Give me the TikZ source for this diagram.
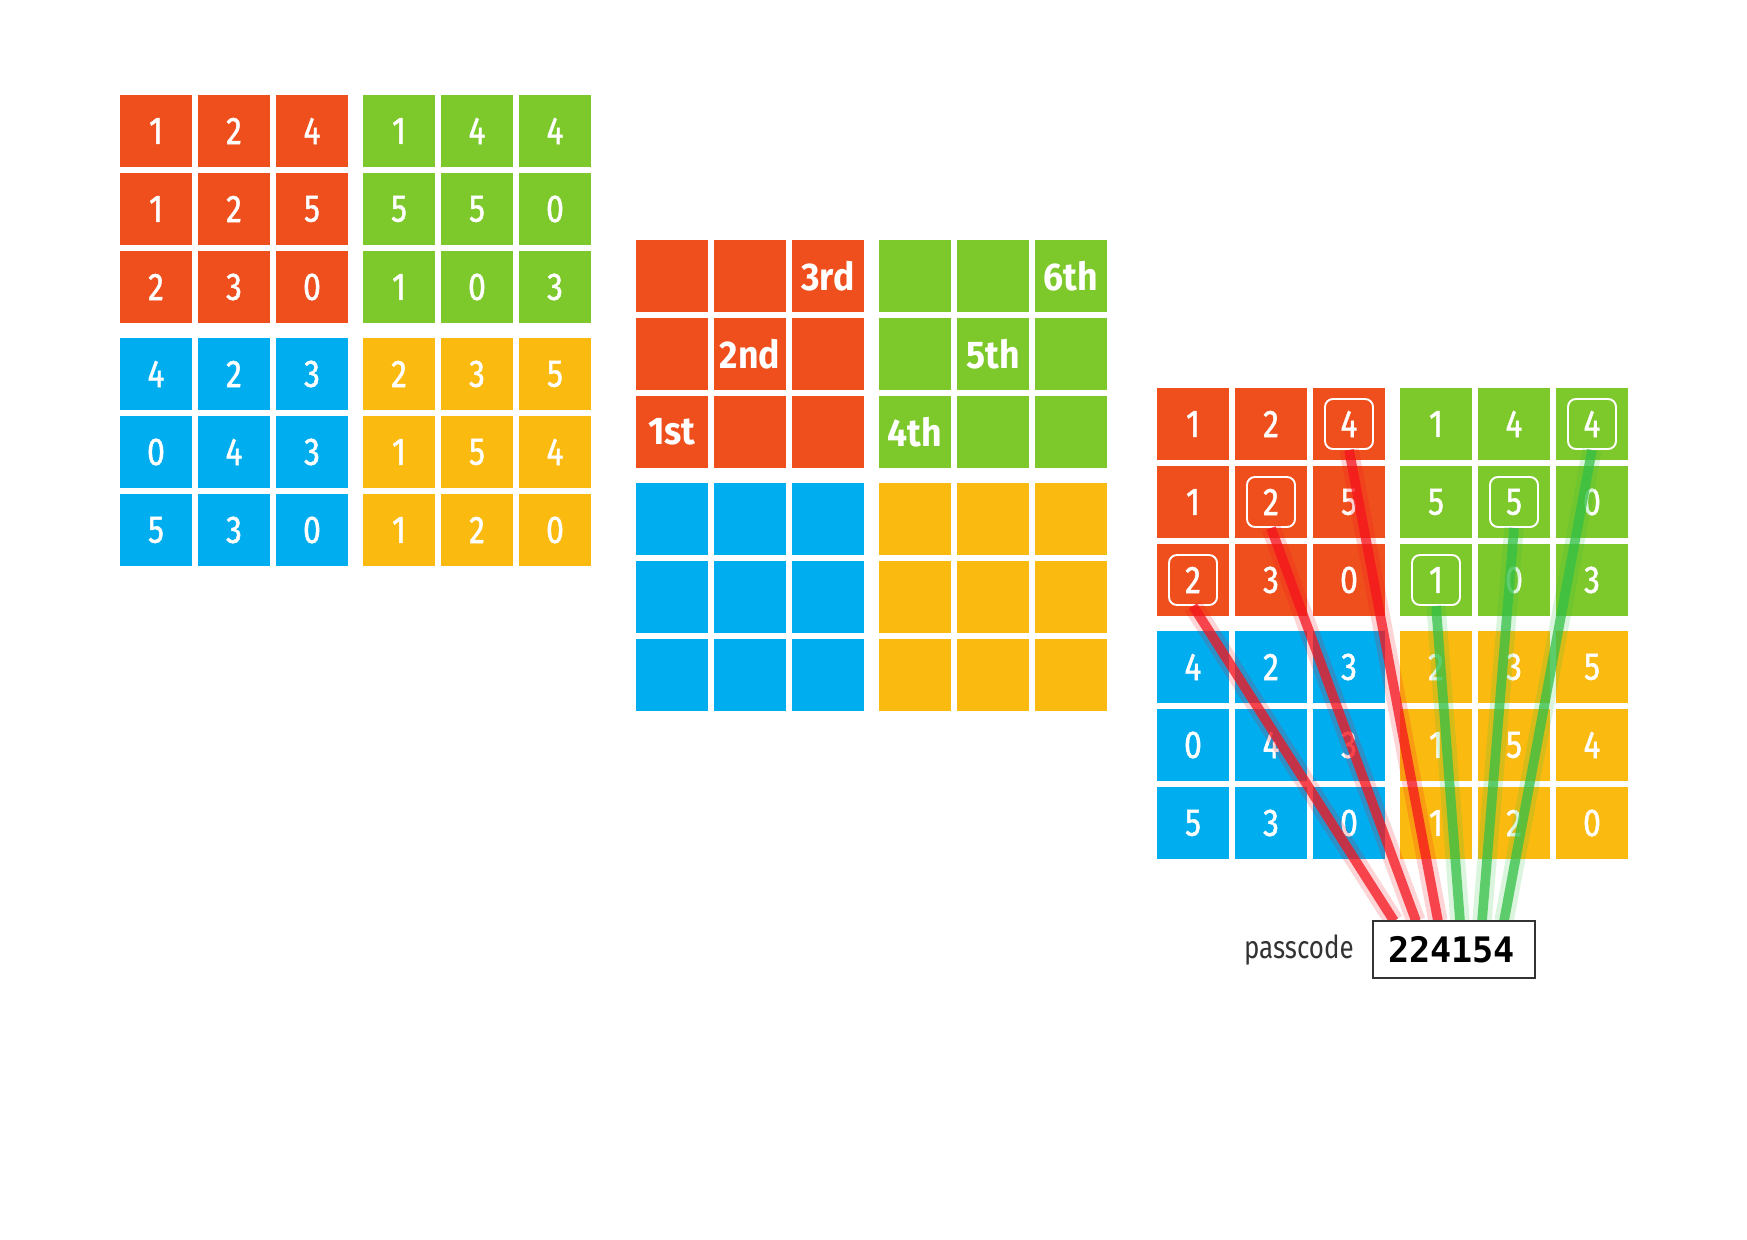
\documentclass[tikz,border=0pt]{standalone}
\usepackage{fontspec}
\setmainfont{Fira Sans}
\newfontfamily\cellfont[FakeStretch=0.82, FakeBold=1.2]{Fira Sans}
\newfontfamily\labelfont[FakeStretch=0.82]{Fira Sans}
\newfontfamily\ordfont[FakeStretch=0.92]{Fira Sans}
\newfontfamily\codefont{DejaVu Sans Mono}
\usetikzlibrary{positioning}

\definecolor{cred}{HTML}{EF4E1D}
\definecolor{cgreen}{HTML}{7DC82A}
\definecolor{cblue}{HTML}{00ADEF}
\definecolor{cyellow}{HTML}{FBBA0F}
\definecolor{lred}{HTML}{F5141E}
\definecolor{lgreen}{HTML}{34C046}

\begin{document}
\begin{tikzpicture}[x=0.02cm, y=-0.02cm,
                    cell/.style={rectangle, minimum size=1.44cm, inner sep=0pt, text=white,
                                 font=\cellfont\fontsize{22}{22}\selectfont},
                    ordlabel/.style={inner sep=0pt, text=white, font=\ordfont\bfseries\fontsize{22}{22}\selectfont},
                    pick/.style={draw=white, line width=1.1pt, rounded corners=4.5pt,
                                 minimum width=0.96cm, minimum height=1cm, inner sep=0pt},
                    haze/.style={line width=11pt, draw opacity=0.18},
                    beam/.style={line width=5.5pt, draw opacity=0.75},
                    passbox/.style={draw=black!80, fill=white, line width=1.1pt, minimum width=3.24cm,
                                    minimum height=1.14cm, inner sep=0pt,
                                    font=\codefont\bfseries\fontsize{20}{20}\selectfont},
                    plabel/.style={inner sep=0pt, text=black!80, font=\labelfont\fontsize{18}{18}\selectfont}]
\useasboundingbox (0,0) rectangle (1747,1240);

% Define cells of the three cards (numbers, order, picked numbers)
\foreach \q/\qx/\qy/\col/\vals in {red/0/0/cred/{1,2,4,1,2,5,2,3,0},
                                   green/1/0/cgreen/{1,4,4,5,5,0,1,0,3},
                                   blue/0/1/cblue/{4,2,3,0,4,3,5,3,0},
                                   yellow/1/1/cyellow/{2,3,5,1,5,4,1,2,0}} {
  \foreach \v [count=\k from 0] in \vals {
    \pgfmathtruncatemacro{\rw}{div(\k,3)}
    \pgfmathtruncatemacro{\cl}{mod(\k,3)}
    \node[cell, fill=\col] (src-\q-\rw\cl) at (156+243*\qx+78*\cl, 131+243*\qy+78*\rw) {\v};
    \node[cell, fill=\col] (ord-\q-\rw\cl) at (672+243*\qx+78*\cl, 276+243*\qy+78*\rw) {};
    \node[cell, fill=\col] (sel-\q-\rw\cl) at (1193+243*\qx+78*\cl, 424+243*\qy+78*\rw) {\v};
  }
}

% Order labels
\node[ordlabel] (o1) at (ord-red-20) {1st};
\node[ordlabel] (o2) at (ord-red-11) {2nd};
\node[ordlabel] (o3) at (ord-red-02) {3rd};
\node[ordlabel] (o4) at (ord-green-20) {4th};
\node[ordlabel] (o5) at (ord-green-11) {5th};
\node[ordlabel] (o6) at (ord-green-02) {6th};

% Picked numbers
\node[pick] (p1) at (sel-red-20) {};
\node[pick] (p2) at (sel-red-11) {};
\node[pick] (p3) at (sel-red-02) {};
\node[pick] (p4) at (sel-green-20) {};
\node[pick] (p5) at (sel-green-11) {};
\node[pick] (p6) at (sel-green-02) {};

% Beams to the passcode digits
\foreach \i in {1,...,6}
  \coordinate (t\i) at (1372+22*\i, 921);
\foreach \i/\c in {1/lred, 2/lred, 3/lred, 4/lgreen, 5/lgreen, 6/lgreen} {
  \draw[haze, draw=\c] (p\i.south) -- (t\i);
  \draw[beam, draw=\c] (p\i.south) -- (t\i);
}

% Passcode
\node[passbox, text width=2.64cm, align=left] (pc) at (1454,949.5) {224154};
\node[plabel, left=0.36cm of pc] (pl) {passcode};
\end{tikzpicture}
\end{document}
